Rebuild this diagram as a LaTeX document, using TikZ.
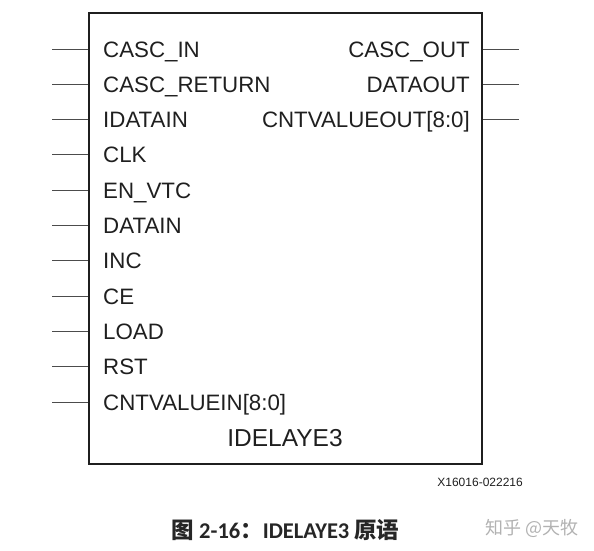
\documentclass[tikz,border=0pt]{standalone}
\usepackage{fontspec}
\setmainfont{Liberation Sans}
\newfontfamily\cjkfont{Noto Sans CJK SC}
\newfontfamily\calfont{Carlito}
\begin{document}
\begin{tikzpicture}[x=1pt,y=-1pt,
  pinlabel/.style={font=\fontsize{22.3}{25}\selectfont, inner sep=0pt, text=black!88},
  pinline/.style={line width=1pt, draw=black!70},
  blockbox/.style={draw=black!88, line width=2pt, minimum width=393pt, minimum height=451pt, inner sep=0pt}]
\useasboundingbox (0,0) rectangle (594,550);
\node[blockbox] (box) at (285.5,238.5) {};
\foreach \t [count=\i from 0] in {CASC\_IN,CASC\_RETURN,IDATAIN,CLK,EN\_VTC,DATAIN,INC,CE,LOAD,RST,{CNTVALUEIN[8:0]}} {
  \pgfmathsetmacro\yy{49+35.3*\i}
  \coordinate (lp\i) at (52,\yy);
  \draw[pinline] (lp\i) -- (box.west |- lp\i);
  \node[pinlabel, anchor=base west] (ll\i) at (103,\yy+8) {\t};
}
\foreach \t [count=\i from 0] in {CASC\_OUT,DATAOUT,{CNTVALUEOUT[8:0]}} {
  \pgfmathsetmacro\yy{49+35.3*\i}
  \coordinate (rp\i) at (519,\yy);
  \draw[pinline] (box.east |- rp\i) -- (rp\i);
  \node[pinlabel, anchor=base east] (rl\i) at (470,\yy+8) {\t};
}
\node[font=\fontsize{24.5}{28}\selectfont, inner sep=0pt, anchor=base, text=black!88] (title) at (285,446.8) {IDELAYE3};
\node[font=\fontsize{12}{14}\selectfont, inner sep=0pt, anchor=base east, text=black!88] (xid) at (523,486) {X16016-022216};
\node[font=\fontsize{22.5}{26}\selectfont, inner sep=0pt, anchor=base, text=black!85] (cap) at (285.5,538)
  {\cjkfont\bfseries 图\ \calfont\bfseries 2-16\cjkfont\bfseries ：\calfont\bfseries IDELAYE3\ \cjkfont\bfseries 原语};
\node[font=\fontsize{18}{22}\selectfont\cjkfont, inner sep=0pt, anchor=base west, text=black!30] (wm) at (485,534) {知乎 @天牧};
\end{tikzpicture}
\end{document}
